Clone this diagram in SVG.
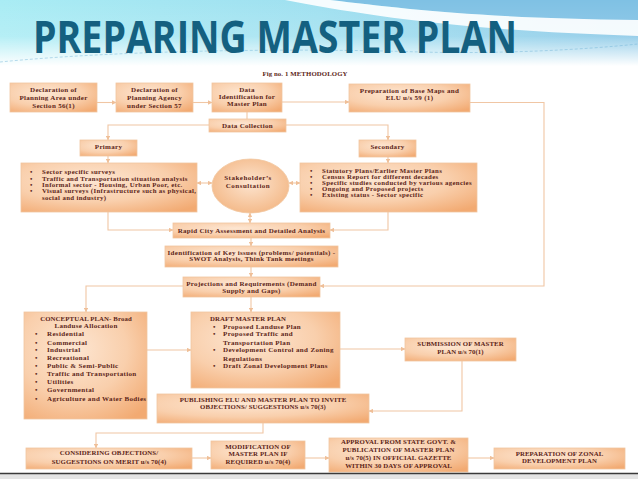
<svg xmlns="http://www.w3.org/2000/svg" width="638" height="479" viewBox="0 0 638 479">
<defs>
<linearGradient id="hdr" x1="0" y1="0" x2="1" y2="0">
<stop offset="0" stop-color="#a9ecf4"/>
<stop offset="0.5" stop-color="#9fe0f0"/>
<stop offset="1" stop-color="#86c6e6"/>
</linearGradient>
<linearGradient id="fade" x1="0" y1="0" x2="0" y2="1">
<stop offset="0" stop-color="#ffffff" stop-opacity="0"/>
<stop offset="0.55" stop-color="#ffffff" stop-opacity="0.15"/>
<stop offset="1" stop-color="#ffffff" stop-opacity="1"/>
</linearGradient>
<radialGradient id="box" cx="0.4" cy="0.35" r="0.8">
<stop offset="0" stop-color="#fde6d2"/>
<stop offset="0.55" stop-color="#f9cfac"/>
<stop offset="1" stop-color="#f2aa72"/>
</radialGradient>
<radialGradient id="ell" cx="0.5" cy="0.45" r="0.6">
<stop offset="0" stop-color="#fde4cf"/>
<stop offset="1" stop-color="#f3b785"/>
</radialGradient>
<marker id="ar" viewBox="0 0 6 6" refX="5.5" refY="3" markerWidth="4" markerHeight="4" orient="auto-start-reverse">
<path d="M0,0 L6,3 L0,6 Z" fill="#efbf98"/>
</marker>
</defs>
<style>
.bx{fill:url(#box);stroke:#f1c6a0;stroke-width:0.8}
.t{font-family:"Liberation Serif",serif;font-weight:bold;font-size:7px;letter-spacing:0.3px;fill:#5c1f18;text-anchor:middle}
.u{font-family:"Liberation Serif",serif;font-weight:bold;font-size:6.8px;letter-spacing:0.1px;fill:#5c1f18;text-anchor:middle}
.st{text-anchor:start}
.s{font-family:"Liberation Serif",serif;font-weight:bold;font-size:6.8px;letter-spacing:0.35px;fill:#5c1f18}
.k{font-family:"Liberation Serif",serif;font-weight:bold;font-size:7px;letter-spacing:0.35px;fill:#5c1f18}
.e{font-size:7px;letter-spacing:0.5px}
.c{fill:none;stroke:#f0c6a4;stroke-width:1.1}
.a{marker-end:url(#ar)}
.d{marker-start:url(#ar);marker-end:url(#ar)}
</style>
<rect x="0" y="0" width="638" height="479" fill="#ffffff"/>
<g id="header">
<rect x="0" y="0" width="638" height="66" fill="url(#hdr)"/>
<path d="M330 0 C400 8 470 18 638 20 L638 0 Z" fill="#7fc1e4"/>
<path d="M285 0 C360 14 450 30 638 36 L638 20 C470 18 400 8 330 0 Z" fill="#ffffff" opacity="0.9"/>
<rect x="0" y="0" width="638" height="66" fill="url(#fade)"/>
<path d="M0 62 C120 50 300 48 420 52 C500 54 580 50 638 44" fill="none" stroke="#6fb4d6" stroke-width="0.8" stroke-dasharray="3 2" opacity="0.6"/>
<text x="33" y="52.5" font-family="'Open Sans',sans-serif" font-weight="700" font-size="45" fill="#146080" textLength="484" lengthAdjust="spacingAndGlyphs">PREPARING MASTER PLAN</text>
</g>
<text x="305" y="75.5" class="u">Fig no. 1 METHODOLOGY</text>
<g id="connectors">
<path class="c a" d="M97 102.5 H116"/>
<path class="c a" d="M193 102.5 H212"/>
<path class="c a" d="M282 102 H349"/>
<path class="c a" d="M470 102.5 H544 V286 H320"/>
<path class="c" d="M247 112 V119"/>
<path class="c a" d="M209 125 H108 V140"/>
<path class="c a" d="M286 125 H388 V140"/>
<path class="c a" d="M108 156 V163"/>
<path class="c a" d="M388 157 V163"/>
<path class="c d" d="M197 183 H212"/>
<path class="c d" d="M289 183 H300"/>
<path class="c a" d="M108 212 V230 H173"/>
<path class="c a" d="M388 212 V230 H330"/>
<path class="c d" d="M250 213 V223"/>
<path class="c a" d="M251 238 V246"/>
<path class="c a" d="M251 267 V277"/>
<path class="c a" d="M183 286 H86 V312"/>
<path class="c a" d="M251 297 V312"/>
<path class="c a" d="M147 350 H191"/>
<path class="c a" d="M340 349 H405"/>
<path class="c a" d="M462 361 V411 H369"/>
<path class="c a" d="M263 423 V433 H96 V448"/>
<path class="c a" d="M192 458 H211"/>
<path class="c a" d="M305 458 H329"/>
<path class="c a" d="M468 458 H494"/>
</g>
<g id="n1"><rect class="bx" x="10" y="83" width="87" height="29"/>
<text class="t" x="53.5" y="91.5">Declaration of</text><text class="t" x="53.5" y="100">Planning Area under</text><text class="t" x="53.5" y="108">Section 56(1)</text></g>
<g id="n2"><rect class="bx" x="116" y="83" width="77" height="29"/>
<text class="t" x="154.5" y="91.5">Declaration of</text><text class="t" x="154.5" y="100">Planning Agency</text><text class="t" x="154.5" y="108">under Section 57</text></g>
<g id="n3"><rect class="bx" x="212" y="83" width="70" height="29"/>
<text class="t" x="247" y="92">Data</text><text class="t" x="247" y="99">Identification for</text><text class="t" x="247" y="106">Master Plan</text></g>
<g id="n4"><rect class="bx" x="349" y="84" width="121" height="28"/>
<text class="t" x="409.5" y="93">Preparation of Base Maps and</text><text class="t" x="409.5" y="100">ELU u/s 59 (1)</text></g>
<g id="n5"><rect class="bx" x="209" y="119" width="77" height="13"/>
<text class="t" x="247.5" y="128">Data Collection</text></g>
<g id="n6"><rect class="bx" x="80" y="140" width="57" height="16"/>
<text class="t" x="108.5" y="148.5">Primary</text></g>
<g id="n7"><rect class="bx" x="359" y="140" width="57" height="17"/>
<text class="t" x="387.5" y="148.5">Secondary</text></g>
<g id="n8"><rect class="bx" x="21" y="163" width="176" height="49"/>
<g class="s"><text x="30" y="174">•</text><text x="30" y="180.5">•</text><text x="30" y="186.5">•</text><text x="30" y="193">•</text>
<text x="42" y="174">Sector specific surveys</text><text x="42" y="180.5">Traffic and Transportation situation analysis</text><text x="42" y="186.5">Informal sector - Housing, Urban Poor, etc.</text><text x="42" y="193">Visual surveys (Infrastructure such as physical,</text><text x="42" y="199.5">social and industry)</text></g></g>
<g id="n9"><ellipse cx="250.5" cy="186" rx="38.5" ry="27" fill="url(#ell)" stroke="#f1c6a0" stroke-width="0.8"/>
<text class="t e" x="248" y="179.5">Stakeholder’s</text><text class="t e" x="248" y="187.5">Consultation</text></g>
<g id="n10"><rect class="bx" x="300" y="163" width="177" height="49"/>
<g class="s"><text x="310" y="173">•</text><text x="310" y="179">•</text><text x="310" y="185">•</text><text x="310" y="191.3">•</text><text x="310" y="197.3">•</text>
<text x="322" y="173">Statutory Plans/Earlier Master Plans</text><text x="322" y="179">Census Report for different decades</text><text x="322" y="185">Specific studies conducted by various agencies</text><text x="322" y="191.3">Ongoing and Proposed projects</text><text x="322" y="197.3">Existing status - Sector specific</text></g></g>
<g id="n11"><rect class="bx" x="173" y="223" width="157" height="15"/>
<text class="t" x="251.5" y="232.5">Rapid City Assessment and Detailed Analysis</text></g>
<g id="n12"><rect class="bx" x="165" y="246" width="173" height="21"/>
<text class="t" x="251.5" y="254.5">Identification of Key issues (problems/ potentials) -</text><text class="t" x="251.5" y="261">SWOT Analysis, Think Tank meetings</text></g>
<g id="n13"><rect class="bx" x="183" y="277" width="137" height="20"/>
<text class="t" x="251.5" y="285.5">Projections and Requirements (Demand</text><text class="t" x="251.5" y="292.5">Supply and Gaps)</text></g>
<g id="n14"><rect class="bx" x="24" y="312" width="123" height="107"/>
<text class="u" x="86" y="321">CONCEPTUAL PLAN- Broad</text><text class="t" x="86" y="327.5">Landuse Allocation</text>
<g class="k"><text x="35" y="336">•</text><text x="35" y="344.5">•</text><text x="35" y="352.3">•</text><text x="35" y="360">•</text><text x="35" y="368.3">•</text><text x="35" y="376.3">•</text><text x="35" y="384.3">•</text><text x="35" y="392.3">•</text><text x="35" y="401">•</text>
<text x="47" y="336">Residential</text><text x="47" y="344.5">Commercial</text><text x="47" y="352.3">Industrial</text><text x="47" y="360">Recreational</text><text x="47" y="368.3">Public &amp; Semi-Public</text><text x="47" y="376.3">Traffic and Transportation</text><text x="47" y="384.3">Utilities</text><text x="47" y="392.3">Governmental</text><text x="47" y="401">Agriculture and Water Bodies</text></g></g>
<g id="n15"><rect class="bx" x="191" y="312" width="149" height="76"/>
<text class="u st" x="210" y="321">DRAFT MASTER PLAN</text>
<g class="k"><text x="213" y="328.5">•</text><text x="213" y="336">•</text><text x="213" y="352.3">•</text><text x="213" y="368.3">•</text>
<text x="223" y="328.5">Proposed Landuse Plan</text><text x="223" y="336">Proposed Traffic and</text><text x="223" y="344.5">Transportation Plan</text><text x="223" y="352.3">Development Control and Zoning</text><text x="223" y="360.5">Regulations</text><text x="223" y="368.3">Draft Zonal Development Plans</text></g></g>
<g id="n16"><rect class="bx" x="405" y="338" width="111" height="23"/>
<text class="u" x="460.5" y="346">SUBMISSION OF MASTER</text><text class="u" x="460.5" y="353.5">PLAN u/s 70(1)</text></g>
<g id="n17"><rect class="bx" x="157" y="394" width="212" height="29"/>
<text class="u" x="263" y="401.5">PUBLISHING ELU AND MASTER PLAN TO INVITE</text><text class="u" x="263" y="409">OBJECTIONS/ SUGGESTIONS u/s 70(3)</text></g>
<g id="n18"><rect class="bx" x="26" y="448" width="166" height="21"/>
<text class="u" x="109" y="455">CONSIDERING OBJECTIONS/</text><text class="u" x="109" y="464">SUGGESTIONS ON MERIT u/s 70(4)</text></g>
<g id="n19"><rect class="bx" x="211" y="441" width="94" height="28"/>
<text class="u" x="258" y="449">MODIFICATION OF</text><text class="u" x="258" y="456.3">MASTER PLAN IF</text><text class="u" x="258" y="464">REQUIRED u/s 70(4)</text></g>
<g id="n20"><rect class="bx" x="329" y="438" width="139" height="34"/>
<text class="u" x="398.5" y="444.3">APPROVAL FROM STATE GOVT. &amp;</text><text class="u" x="398.5" y="452">PUBLICATION OF MASTER PLAN</text><text class="u" x="398.5" y="460">u/s 70(5) IN OFFICIAL GAZETTE</text><text class="u" x="398.5" y="468">WITHIN 30 DAYS OF APPROVAL</text></g>
<g id="n21"><rect class="bx" x="494" y="448" width="131" height="21"/>
<text class="u" x="559.5" y="455.5">PREPARATION OF ZONAL</text><text class="u" x="559.5" y="463.3">DEVELOPMENT PLAN</text></g>
<rect x="0" y="474" width="638" height="5" fill="#e4e4e4"/>
<line x1="0" y1="473.5" x2="638" y2="473.5" stroke="#3a3a3a" stroke-width="1.5"/>
</svg>
